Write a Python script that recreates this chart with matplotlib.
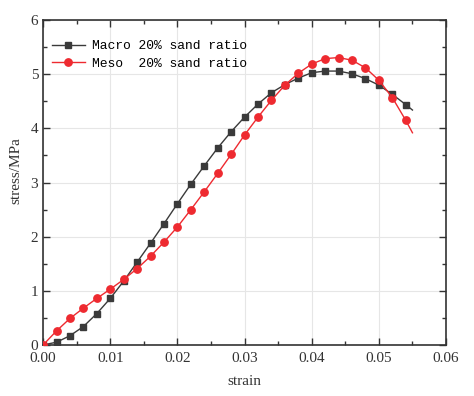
import matplotlib
matplotlib.use("Agg")
from matplotlib import pyplot as plt
from matplotlib.ticker import MultipleLocator, FormatStrFormatter

# strain points (marker every 0.002, line runs on to 0.055)
strain = [0.000, 0.002, 0.004, 0.006, 0.008, 0.010, 0.012, 0.014, 0.016, 0.018,
          0.020, 0.022, 0.024, 0.026, 0.028, 0.030, 0.032, 0.034, 0.036, 0.038,
          0.040, 0.042, 0.044, 0.046, 0.048, 0.050, 0.052, 0.054, 0.055]
macro = [0.00, 0.05, 0.17, 0.34, 0.58, 0.86, 1.18, 1.53, 1.88, 2.24,
         2.61, 2.97, 3.31, 3.64, 3.94, 4.21, 4.45, 4.66, 4.81, 4.93,
         5.03, 5.06, 5.06, 5.01, 4.92, 4.80, 4.63, 4.44, 4.34]
meso = [0.00, 0.26, 0.49, 0.68, 0.86, 1.03, 1.21, 1.41, 1.64, 1.90,
        2.18, 2.50, 2.83, 3.17, 3.52, 3.88, 4.21, 4.52, 4.80, 5.02,
        5.19, 5.29, 5.31, 5.26, 5.12, 4.89, 4.57, 4.15, 3.92]
labels = ["Macro 20% sand ratio", "Meso  20% sand ratio"]

plt.rcParams['font.family'] = ['Liberation Serif', 'DejaVu Serif']

fig = plt.figure(figsize=(4.74, 3.96), dpi=100, facecolor='white')
ax = fig.add_axes([0.091, 0.129, 0.850, 0.820])

marks = list(range(len(strain) - 1))
ax.plot(strain, macro, color='#3a3a3a', lw=1.0, marker='s', ms=4.3,
        markevery=marks, label=labels[0], zorder=3)
ax.plot(strain, meso, color='#ee2a30', lw=1.0, marker='o', ms=5.3,
        markevery=marks, label=labels[1], zorder=3)

ax.set_xlim(0, 0.06)
ax.set_ylim(0, 6)
ax.xaxis.set_major_locator(MultipleLocator(0.01))
ax.xaxis.set_minor_locator(MultipleLocator(0.005))
ax.yaxis.set_major_locator(MultipleLocator(1))
ax.yaxis.set_minor_locator(MultipleLocator(0.5))
ax.xaxis.set_major_formatter(FormatStrFormatter('%.2f'))
ax.tick_params(which='both', direction='in', top=True, right=True,
               labelsize=11, colors='#333333', width=1.0)
ax.tick_params(which='major', length=5)
ax.tick_params(which='minor', length=3)
ax.tick_params(axis='x', pad=5)
ax.grid(True, which='major', color='#e6e6e6', lw=0.8, zorder=0)
for s in ax.spines.values():
    s.set_linewidth(1.2)
    s.set_color('#333333')

ax.set_xlabel('strain', fontsize=11, color='#333333')
ax.set_ylabel('stress/MPa', fontsize=11, color='#333333')
ax.xaxis.set_label_coords(0.5, -0.092)
ax.yaxis.set_label_coords(-0.052, 0.538)

ax.legend(loc='upper left', frameon=False, handlelength=2.5, handletextpad=0.55,
          borderaxespad=0, borderpad=0, labelspacing=0.4,
          bbox_to_anchor=(0.022, 0.938),
          prop={'family': 'Liberation Mono', 'size': 9.4})

plt.savefig('out.png', dpi=100)
